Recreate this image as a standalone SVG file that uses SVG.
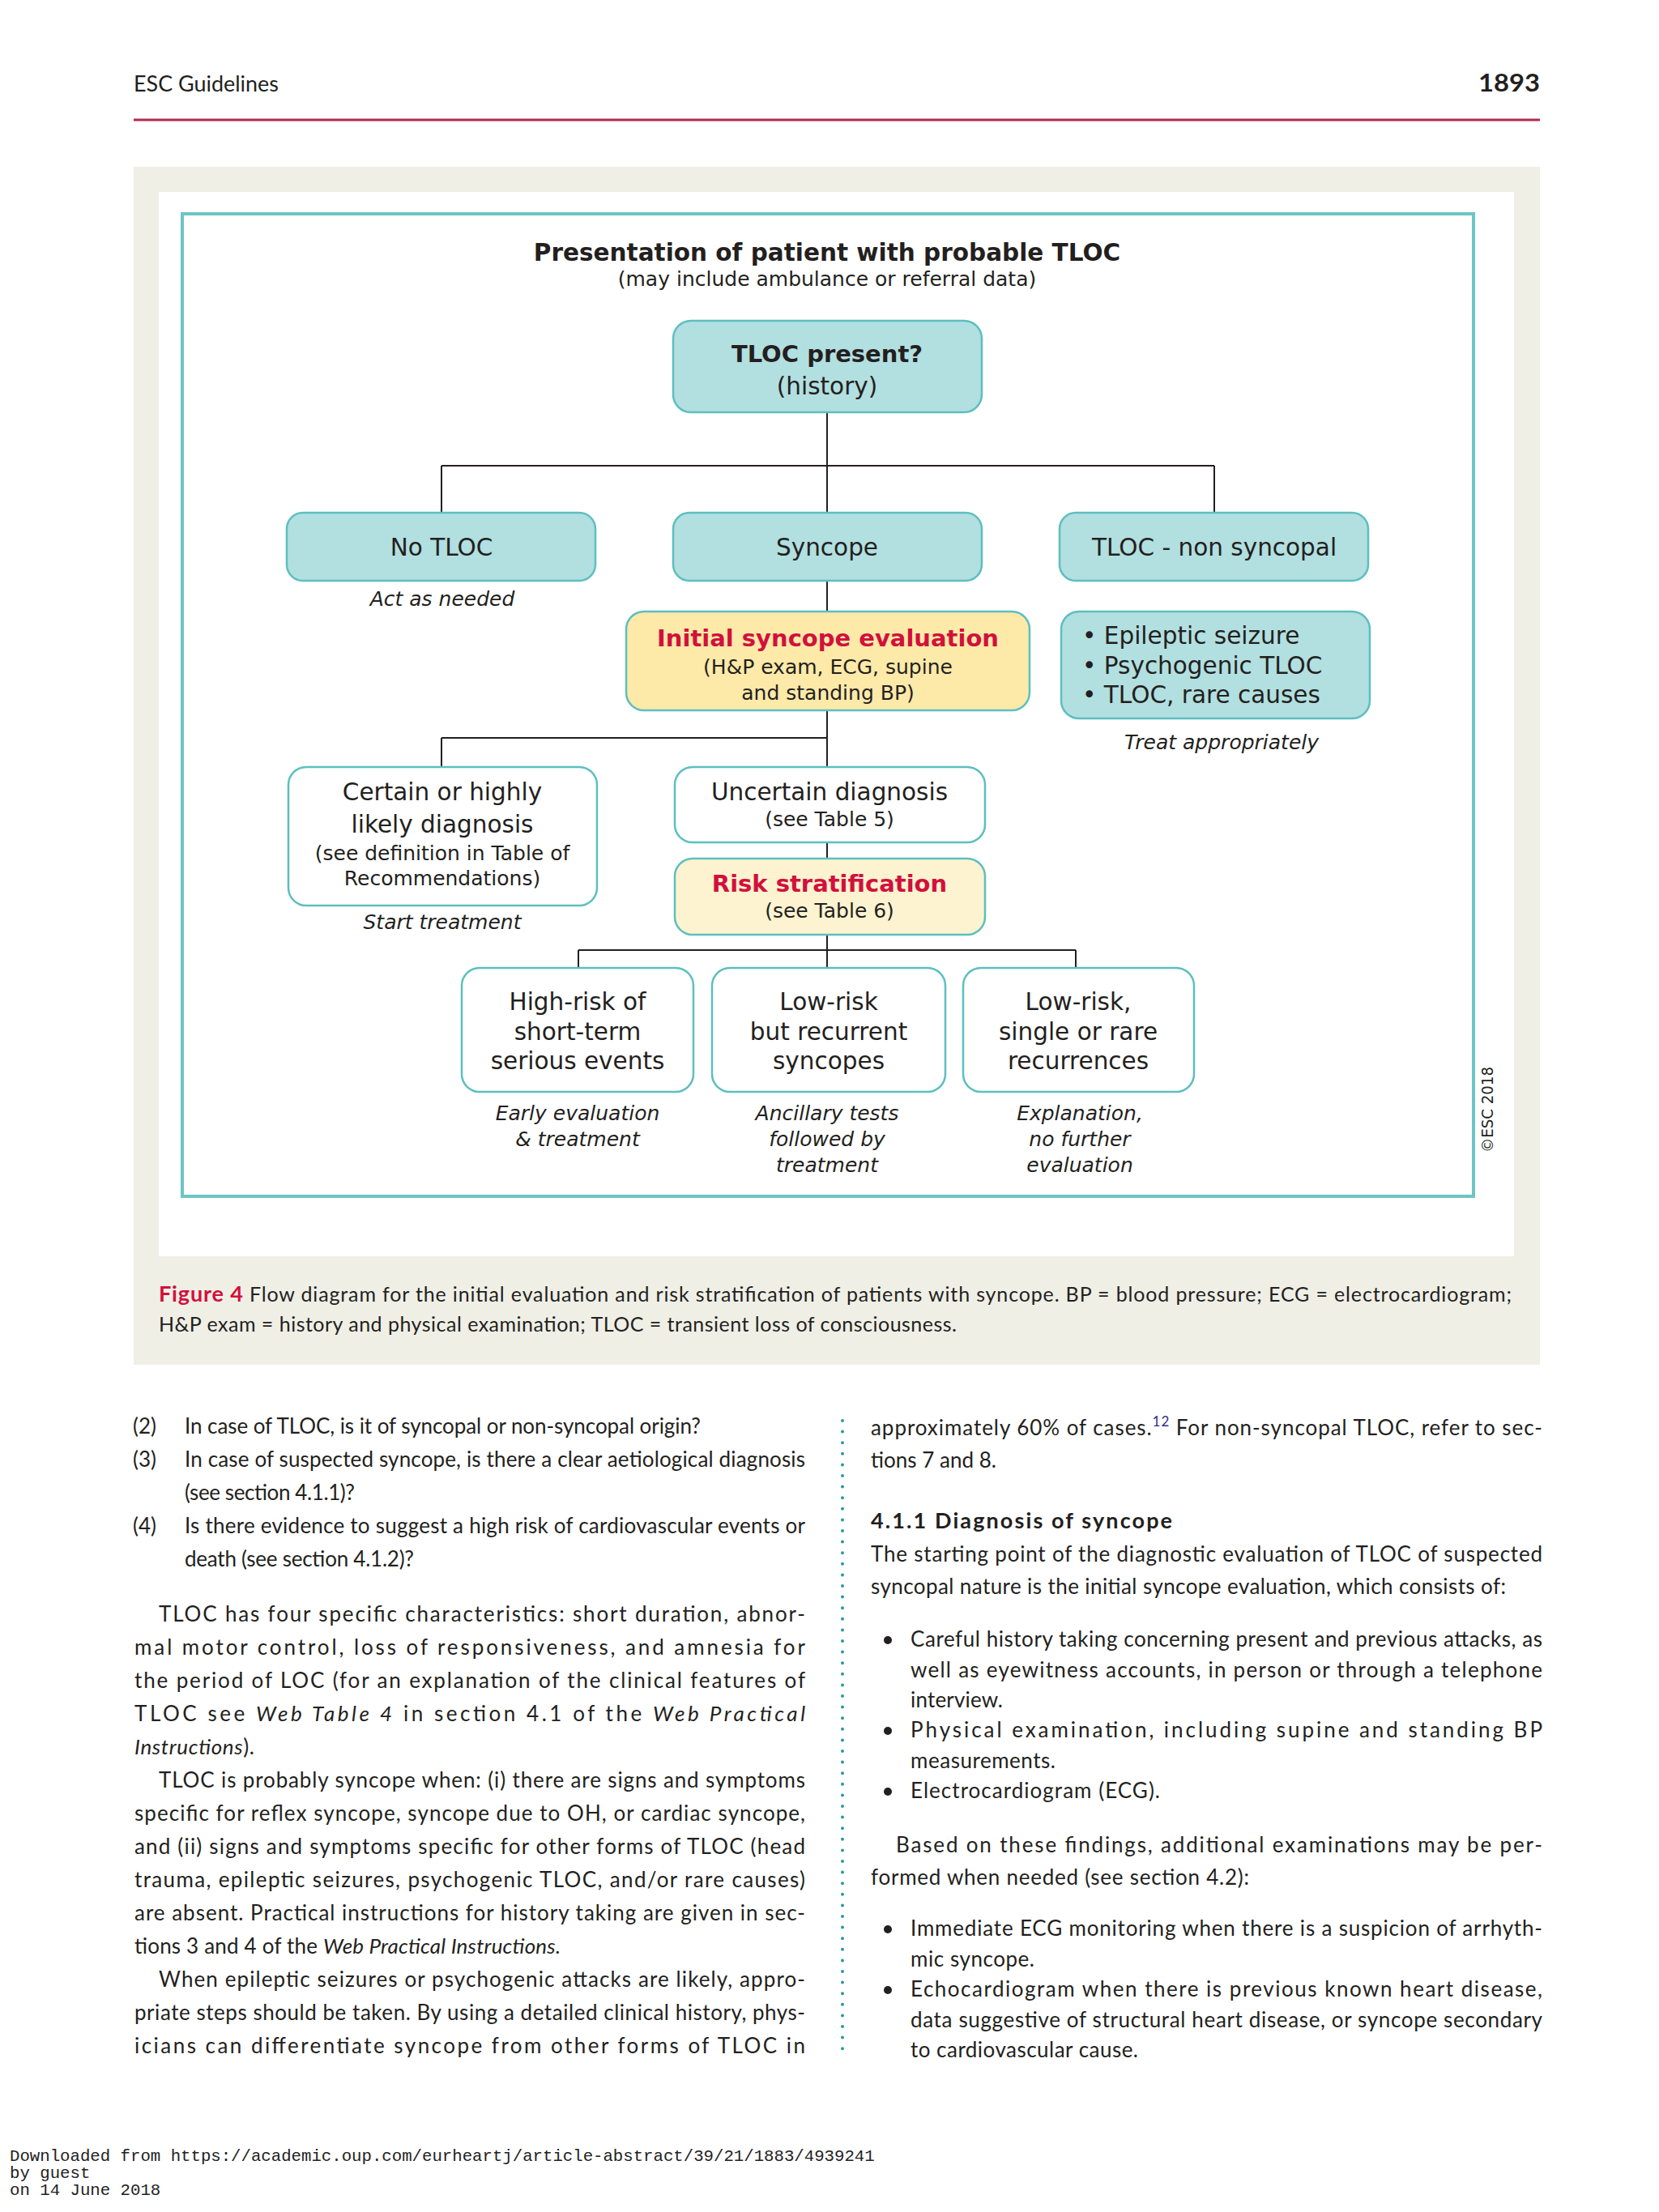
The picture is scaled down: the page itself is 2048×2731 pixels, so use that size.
<svg xmlns="http://www.w3.org/2000/svg" width="2048" height="2731" viewBox="0 0 2048 2731">
<style>
.dg{font-family:"DejaVu Sans",Verdana,sans-serif;fill:#231f20;text-anchor:middle}
.lb{font-size:29.5px}
.sm{font-size:25px}
.it{font-size:25px;font-style:italic}
.bd{font-weight:bold;font-size:29px}
.red{fill:#d2103c}
.teal{fill:#b2dfe0;stroke:#5dbfc0;stroke-width:2.5}
.wht{fill:#ffffff;stroke:#5dbfc0;stroke-width:2.5}
.yel{fill:#fde9a8;stroke:#5dbfc0;stroke-width:2.5}
.yel2{fill:#fdf3d0;stroke:#5dbfc0;stroke-width:2.5}
.con{stroke:#231f20;stroke-width:2;fill:none}
.bt{font-family:Lato,"Liberation Sans",sans-serif;font-size:26px;fill:#231f20}
.cap{font-size:25px}
.i{font-style:italic}
.ft{font-family:"Liberation Mono",monospace;font-size:20.7px;fill:#222}
</style>
<rect width="2048" height="2731" fill="#ffffff"/>
<!-- header -->
<g id="header">
<text class="bt" x="165" y="113" textLength="179" lengthAdjust="spacingAndGlyphs" style="font-size:27px">ESC Guidelines</text>
<text class="bt" x="1825" y="113" style="font-size:31px;font-weight:bold" textLength="76" lengthAdjust="spacingAndGlyphs">1893</text>
<line x1="165" y1="148" x2="1901" y2="148" stroke="#b12a4f" stroke-width="3"/>
</g>
<!-- figure panel -->
<g id="panel">
<rect x="165" y="206" width="1736" height="1479" fill="#efefe6"/>
<rect x="196" y="237" width="1673" height="1314" fill="#ffffff"/>
<rect x="225" y="264" width="1594" height="1213" fill="none" stroke="#6cc5c5" stroke-width="4"/>
<text class="dg" x="1021" y="322" style="font-size:29.5px;font-weight:bold">Presentation of patient with probable TLOC</text>
<text class="dg sm" x="1021" y="353">(may include ambulance or referral data)</text>
<text x="1843" y="1370" transform="rotate(-90 1843 1370)" style="font-family:'DejaVu Sans',sans-serif;font-size:19px;fill:#231f20;text-anchor:middle" textLength="106" lengthAdjust="spacingAndGlyphs">©ESC 2018</text>
</g>
<!-- connectors -->
<g id="connectors">
<line class="con" x1="1021" y1="509" x2="1021" y2="633"/>
<line class="con" x1="545" y1="575" x2="1499" y2="575"/>
<line class="con" x1="545" y1="575" x2="545" y2="633"/>
<line class="con" x1="1499" y1="575" x2="1499" y2="633"/>
<line class="con" x1="1021" y1="717" x2="1021" y2="755"/>
<line class="con" x1="1021" y1="877" x2="1021" y2="947"/>
<line class="con" x1="545" y1="911" x2="1021" y2="911"/>
<line class="con" x1="545" y1="911" x2="545" y2="947"/>
<line class="con" x1="1021" y1="1040" x2="1021" y2="1060"/>
<line class="con" x1="1021" y1="1154" x2="1021" y2="1195"/>
<line class="con" x1="714" y1="1173" x2="1328" y2="1173"/>
<line class="con" x1="714" y1="1173" x2="714" y2="1195"/>
<line class="con" x1="1328" y1="1173" x2="1328" y2="1195"/>
</g>
<!-- nodes -->
<g id="n-tloc-present">
<rect class="teal" x="831" y="396" width="381" height="113" rx="22"/>
<text class="dg bd" x="1021" y="447">TLOC present?</text>
<text class="dg lb" x="1021" y="487">(history)</text>
</g>
<g id="n-no-tloc">
<rect class="teal" x="354" y="633" width="381" height="84" rx="20"/>
<text class="dg lb" x="545" y="686">No TLOC</text>
<text class="dg it" x="546" y="748">Act as needed</text>
</g>
<g id="n-syncope">
<rect class="teal" x="831" y="633" width="381" height="84" rx="20"/>
<text class="dg lb" x="1021" y="686">Syncope</text>
</g>
<g id="n-tloc-nonsyncopal">
<rect class="teal" x="1308" y="633" width="381" height="84" rx="20"/>
<text class="dg lb" x="1499" y="686">TLOC - non syncopal</text>
</g>
<g id="n-initial">
<rect class="yel" x="773" y="755" width="498" height="122" rx="22"/>
<text class="dg bd red" x="1022" y="798">Initial syncope evaluation</text>
<text class="dg sm" x="1022" y="832">(H&amp;P exam, ECG, supine</text>
<text class="dg sm" x="1022" y="864">and standing BP)</text>
</g>
<g id="n-causes">
<rect class="teal" x="1310" y="755" width="381" height="132" rx="22"/>
<text class="dg lb" x="1336" y="795" style="text-anchor:start">• Epileptic seizure</text>
<text class="dg lb" x="1336" y="832" style="text-anchor:start">• Psychogenic TLOC</text>
<text class="dg lb" x="1336" y="868" style="text-anchor:start">• TLOC, rare causes</text>
<text class="dg it" x="1508" y="925">Treat appropriately</text>
</g>
<g id="n-certain">
<rect class="wht" x="356" y="947" width="381" height="171" rx="22"/>
<text class="dg lb" x="546" y="988">Certain or highly</text>
<text class="dg lb" x="546" y="1028">likely diagnosis</text>
<text class="dg sm" x="546" y="1062">(see definition in Table of</text>
<text class="dg sm" x="546" y="1093">Recommendations)</text>
<text class="dg it" x="546" y="1147">Start treatment</text>
</g>
<g id="n-uncertain">
<rect class="wht" x="833" y="947" width="383" height="93" rx="22"/>
<text class="dg lb" x="1024" y="988">Uncertain diagnosis</text>
<text class="dg sm" x="1024" y="1020">(see Table 5)</text>
</g>
<g id="n-risk">
<rect class="yel2" x="833" y="1060" width="383" height="94" rx="22"/>
<text class="dg bd red" x="1024" y="1101">Risk stratification</text>
<text class="dg sm" x="1024" y="1133">(see Table 6)</text>
</g>
<g id="n-highrisk">
<rect class="wht" x="570" y="1195" width="286" height="153" rx="22"/>
<text class="dg lb" x="713" y="1247">High-risk of</text>
<text class="dg lb" x="713" y="1284">short-term</text>
<text class="dg lb" x="713" y="1320">serious events</text>
<text class="dg it" x="713" y="1383">Early evaluation</text>
<text class="dg it" x="713" y="1415">&amp; treatment</text>
</g>
<g id="n-lowrisk-recurrent">
<rect class="wht" x="879" y="1195" width="288" height="153" rx="22"/>
<text class="dg lb" x="1023" y="1247">Low-risk</text>
<text class="dg lb" x="1023" y="1284">but recurrent</text>
<text class="dg lb" x="1023" y="1320">syncopes</text>
<text class="dg it" x="1021" y="1383">Ancillary tests</text>
<text class="dg it" x="1021" y="1415">followed by</text>
<text class="dg it" x="1021" y="1447">treatment</text>
</g>
<g id="n-lowrisk-single">
<rect class="wht" x="1189" y="1195" width="285" height="153" rx="22"/>
<text class="dg lb" x="1331" y="1247">Low-risk,</text>
<text class="dg lb" x="1331" y="1284">single or rare</text>
<text class="dg lb" x="1331" y="1320">recurrences</text>
<text class="dg it" x="1333" y="1383">Explanation,</text>
<text class="dg it" x="1333" y="1415">no further</text>
<text class="dg it" x="1333" y="1447">evaluation</text>
</g>
<!-- caption -->
<g id="caption">
<text class="bt cap" x="196" y="1607" textLength="1670" lengthAdjust="spacing"><tspan fill="#d2103c" font-weight="bold" style="font-size:27px">Figure 4</tspan> Flow diagram for the initial evaluation and risk stratification of patients with syncope. BP = blood pressure; ECG = electrocardiogram;</text>
<text class="bt cap" x="196" y="1644" textLength="985" lengthAdjust="spacing">H&amp;P exam = history and physical examination; TLOC = transient loss of consciousness.</text>
</g>
<!-- left column -->
<g id="left-column">
<text class="bt" x="164" y="1770">(2)</text>
<text class="bt" x="228" y="1770" textLength="637" lengthAdjust="spacing">In case of TLOC, is it of syncopal or non-syncopal origin?</text>
<text class="bt" x="164" y="1811">(3)</text>
<text class="bt" x="228" y="1811" textLength="766" lengthAdjust="spacing">In case of suspected syncope, is there a clear aetiological diagnosis</text>
<text class="bt" x="228" y="1852" textLength="210" lengthAdjust="spacing">(see section 4.1.1)?</text>
<text class="bt" x="164" y="1893">(4)</text>
<text class="bt" x="228" y="1893" textLength="766" lengthAdjust="spacing">Is there evidence to suggest a high risk of cardiovascular events or</text>
<text class="bt" x="228" y="1934" textLength="283" lengthAdjust="spacing">death (see section 4.1.2)?</text>
<text class="bt" x="196" y="2002" textLength="798" lengthAdjust="spacing">TLOC has four specific characteristics: short duration, abnor-</text>
<text class="bt" x="166" y="2043" textLength="828" lengthAdjust="spacing">mal motor control, loss of responsiveness, and amnesia for</text>
<text class="bt" x="166" y="2084" textLength="828" lengthAdjust="spacing">the period of LOC (for an explanation of the clinical features of</text>
<text class="bt" x="166" y="2125" textLength="828" lengthAdjust="spacing">TLOC see <tspan class="i">Web Table 4</tspan> in section 4.1 of the <tspan class="i">Web Practical</tspan></text>
<text class="bt" x="166" y="2166" textLength="148" lengthAdjust="spacing"><tspan class="i">Instructions</tspan>).</text>
<text class="bt" x="196" y="2207" textLength="798" lengthAdjust="spacing">TLOC is probably syncope when: (i) there are signs and symptoms</text>
<text class="bt" x="166" y="2248" textLength="828" lengthAdjust="spacing">specific for reflex syncope, syncope due to OH, or cardiac syncope,</text>
<text class="bt" x="166" y="2289" textLength="828" lengthAdjust="spacing">and (ii) signs and symptoms specific for other forms of TLOC (head</text>
<text class="bt" x="166" y="2330" textLength="828" lengthAdjust="spacing">trauma, epileptic seizures, psychogenic TLOC, and/or rare causes)</text>
<text class="bt" x="166" y="2371" textLength="828" lengthAdjust="spacing">are absent. Practical instructions for history taking are given in sec-</text>
<text class="bt" x="166" y="2412" textLength="526" lengthAdjust="spacing">tions 3 and 4 of the <tspan class="i">Web Practical Instructions.</tspan></text>
<text class="bt" x="196" y="2453" textLength="798" lengthAdjust="spacing">When epileptic seizures or psychogenic attacks are likely, appro-</text>
<text class="bt" x="166" y="2494" textLength="828" lengthAdjust="spacing">priate steps should be taken. By using a detailed clinical history, phys-</text>
<text class="bt" x="166" y="2535" textLength="828" lengthAdjust="spacing">icians can differentiate syncope from other forms of TLOC in</text>
</g>
<line id="column-rule" x1="1040" y1="1754" x2="1040" y2="2540" stroke="#2a9a9a" stroke-width="4" stroke-linecap="round" stroke-dasharray="0 13.6"/>
<!-- right column -->
<g id="right-column">
<text class="bt" x="1075" y="1772" textLength="829" lengthAdjust="spacing">approximately 60% of cases.<tspan dy="-11" style="font-size:17px" fill="#2e2e8f">12</tspan><tspan dy="11"> For non-syncopal TLOC, refer to sec-</tspan></text>
<text class="bt" x="1075" y="1812" textLength="155" lengthAdjust="spacing">tions 7 and 8.</text>
<text class="bt" x="1075" y="1887" style="font-size:27px;font-weight:bold" textLength="372" lengthAdjust="spacing">4.1.1 Diagnosis of syncope</text>
<text class="bt" x="1075" y="1928" textLength="829" lengthAdjust="spacing">The starting point of the diagnostic evaluation of TLOC of suspected</text>
<text class="bt" x="1075" y="1968" textLength="784" lengthAdjust="spacing">syncopal nature is the initial syncope evaluation, which consists of:</text>
<g fill="#231f20">
<circle cx="1096" cy="2025" r="5"/>
<circle cx="1096" cy="2137" r="5"/>
<circle cx="1096" cy="2212" r="5"/>
<circle cx="1096" cy="2382" r="5"/>
<circle cx="1096" cy="2457" r="5"/>
</g>
<text class="bt" x="1124" y="2033" textLength="780" lengthAdjust="spacing">Careful history taking concerning present and previous attacks, as</text>
<text class="bt" x="1124" y="2071" textLength="780" lengthAdjust="spacing">well as eyewitness accounts, in person or through a telephone</text>
<text class="bt" x="1124" y="2108" textLength="114" lengthAdjust="spacing">interview.</text>
<text class="bt" x="1124" y="2145" textLength="780" lengthAdjust="spacing">Physical examination, including supine and standing BP</text>
<text class="bt" x="1124" y="2183" textLength="179" lengthAdjust="spacing">measurements.</text>
<text class="bt" x="1124" y="2220" textLength="308" lengthAdjust="spacing">Electrocardiogram (ECG).</text>
<text class="bt" x="1106" y="2287" textLength="798" lengthAdjust="spacing">Based on these findings, additional examinations may be per-</text>
<text class="bt" x="1075" y="2327" textLength="467" lengthAdjust="spacing">formed when needed (see section 4.2):</text>
<text class="bt" x="1124" y="2390" textLength="780" lengthAdjust="spacing">Immediate ECG monitoring when there is a suspicion of arrhyth-</text>
<text class="bt" x="1124" y="2428" textLength="153" lengthAdjust="spacing">mic syncope.</text>
<text class="bt" x="1124" y="2465" textLength="780" lengthAdjust="spacing">Echocardiogram when there is previous known heart disease,</text>
<text class="bt" x="1124" y="2503" textLength="780" lengthAdjust="spacing">data suggestive of structural heart disease, or syncope secondary</text>
<text class="bt" x="1124" y="2540" textLength="281" lengthAdjust="spacing">to cardiovascular cause.</text>
</g>
<!-- footer -->
<g id="footer">
<text class="ft" x="12" y="2668">Downloaded from https://academic.oup.com/eurheartj/article-abstract/39/21/1883/4939241</text>
<text class="ft" x="12" y="2689">by guest</text>
<text class="ft" x="12" y="2710">on 14 June 2018</text>
</g>
</svg>
